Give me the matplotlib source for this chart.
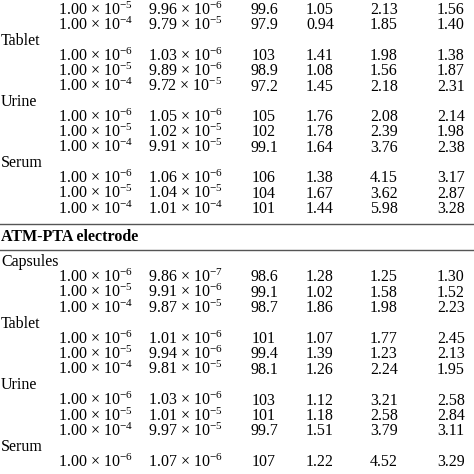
import matplotlib
matplotlib.use("Agg")
import matplotlib.pyplot as plt

plt.rcParams['font.family'] = 'Liberation Serif'
plt.rcParams['mathtext.fontset'] = 'custom'
plt.rcParams['mathtext.rm'] = 'Liberation Serif'
plt.rcParams['mathtext.it'] = 'Liberation Serif'

# each entry: (label, None) or data row
section1 = [
    ("row", ["1.00|-5", "9.96|-6", "99.6", "1.05", "2.13", "1.56"]),
    ("row", ["1.00|-4", "9.79|-5", "97.9", "0.94", "1.85", "1.40"]),
    ("lab", "Tablet"),
    ("row", ["1.00|-6", "1.03|-6", "103", "1.41", "1.98", "1.38"]),
    ("row", ["1.00|-5", "9.89|-6", "98.9", "1.08", "1.56", "1.87"]),
    ("row", ["1.00|-4", "9.72|-5", "97.2", "1.45", "2.18", "2.31"]),
    ("lab", "Urine"),
    ("row", ["1.00|-6", "1.05|-6", "105", "1.76", "2.08", "2.14"]),
    ("row", ["1.00|-5", "1.02|-5", "102", "1.78", "2.39", "1.98"]),
    ("row", ["1.00|-4", "9.91|-5", "99.1", "1.64", "3.76", "2.38"]),
    ("lab", "Serum"),
    ("row", ["1.00|-6", "1.06|-6", "106", "1.38", "4.15", "3.17"]),
    ("row", ["1.00|-5", "1.04|-5", "104", "1.67", "3.62", "2.87"]),
    ("row", ["1.00|-4", "1.01|-4", "101", "1.44", "5.98", "3.28"]),
]
heading2 = "ATM-PTA electrode"
section2 = [
    ("lab", "Capsules"),
    ("row", ["1.00|-6", "9.86|-7", "98.6", "1.28", "1.25", "1.30"]),
    ("row", ["1.00|-5", "9.91|-6", "99.1", "1.02", "1.58", "1.52"]),
    ("row", ["1.00|-4", "9.87|-5", "98.7", "1.86", "1.98", "2.23"]),
    ("lab", "Tablet"),
    ("row", ["1.00|-6", "1.01|-6", "101", "1.07", "1.77", "2.45"]),
    ("row", ["1.00|-5", "9.94|-6", "99.4", "1.39", "1.23", "2.13"]),
    ("row", ["1.00|-4", "9.81|-5", "98.1", "1.26", "2.24", "1.95"]),
    ("lab", "Urine"),
    ("row", ["1.00|-6", "1.03|-6", "103", "1.12", "3.21", "2.58"]),
    ("row", ["1.00|-5", "1.01|-5", "101", "1.18", "2.58", "2.84"]),
    ("row", ["1.00|-4", "9.97|-5", "99.7", "1.51", "3.79", "3.11"]),
    ("lab", "Serum"),
    ("row", ["1.00|-6", "1.07|-6", "107", "1.22", "4.52", "3.29"]),
]

col_x = [95, 185, 264, 320, 384, 451]
fs = 11.5

def fmt(v):
    if "|" in v:
        m, e = v.split("|")
        return m + r" $\times$ 10$^{" + e.replace("-", "\u2212") + "}$"
    return v

fig = plt.figure(figsize=(4.74, 4.74), dpi=100)
ax = fig.add_axes([0, 0, 1, 1])
ax.set_xlim(0, 474)
ax.set_ylim(474, 0)
ax.axis('off')

def draw(section, y0, step):
    y = y0
    for kind, content in section:
        if kind == "lab":
            ax.text(1, y, content, fontsize=fs, ha='left', va='center')
        else:
            for x, v in zip(col_x, content):
                ax.text(x, y, fmt(v), fontsize=fs, ha='center', va='center')
        y += step
    return y

draw(section1, 10, 15.3)
ax.plot([0, 474], [224, 224], color='#555555', lw=1.0)
ax.text(1, 237, heading2, fontsize=fs, fontweight='bold', ha='left', va='center')
ax.plot([0, 474], [250, 250], color='#555555', lw=1.0)
draw(section2, 262, 15.4)

fig.savefig("out.png", dpi=100)
